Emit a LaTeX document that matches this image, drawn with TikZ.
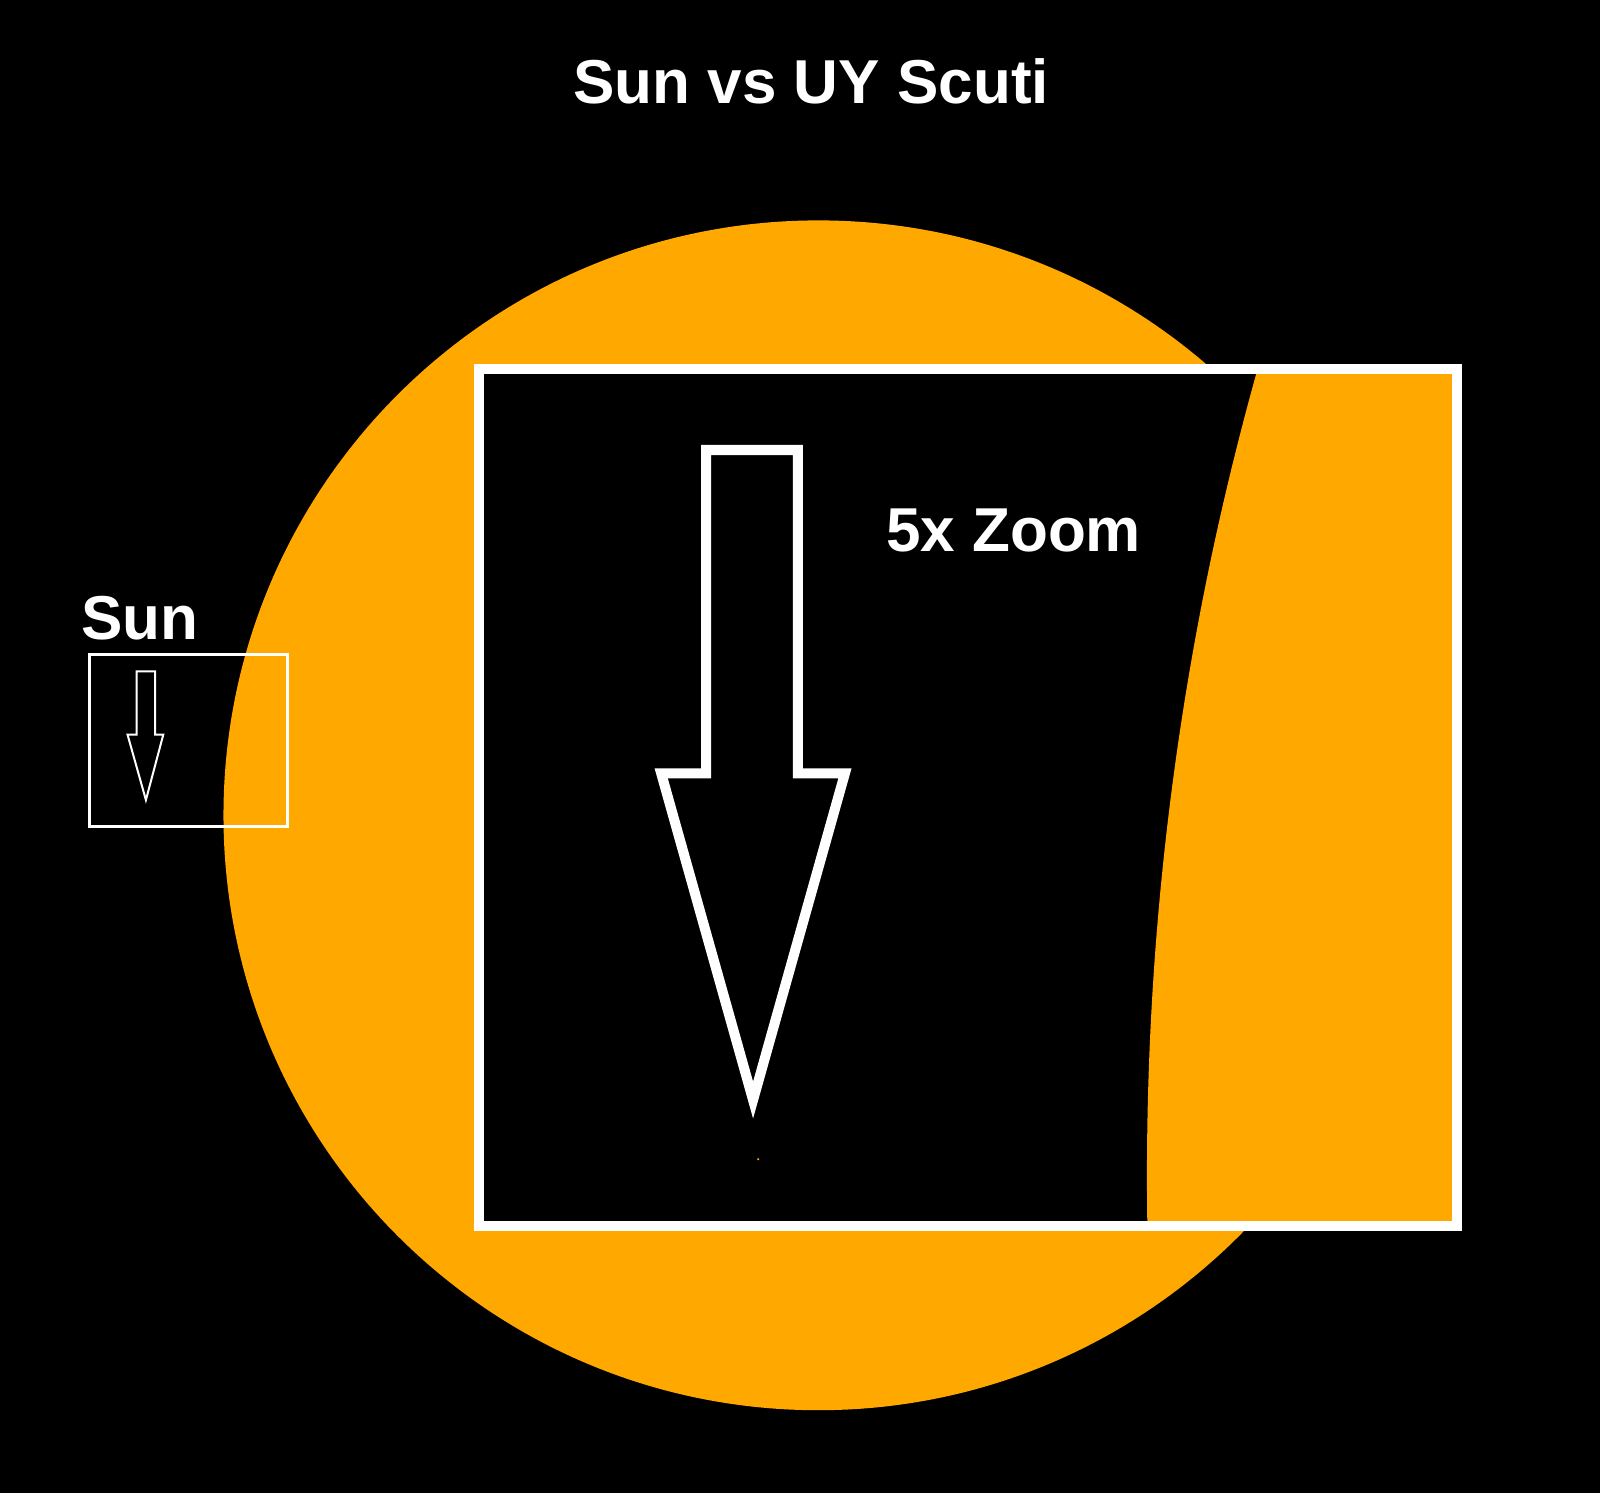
\documentclass[tikz,border=0pt]{standalone}
\usepackage{fontspec}
\setmainfont{Liberation Sans}
\definecolor{sunor}{RGB}{255,168,0}
\begin{document}
\begin{tikzpicture}[x=0.5102pt,y=-0.5102pt,
  lbl/.style={text=white,font=\bfseries\fontsize{31}{36}\selectfont,inner sep=0},
  wl/.style={draw=white,line join=miter}]
\fill[black] (0,0) rectangle (1568,1463);
\useasboundingbox (0,0) rectangle (1568,1463);
\fill[sunor] (802,799) circle (583);
% small box
\draw[wl,line width=1.5pt] (88,641) rectangle (282,810);
\draw[wl,line width=1pt] (134,658) -- (152,658) -- (152,720) -- (160,720) -- (143,784) -- (125,720) -- (134,720) -- cycle;
% zoom box
\begin{scope}
\clip (469,362) rectangle (1428,1201);
\fill[black] (469,362) rectangle (1428,1201);
\fill[sunor] (4039,1152) circle (2915);
\end{scope}
\draw[wl,line width=5pt] (469,362) rectangle (1428,1201);
\draw[wl,line width=5pt] (692,441) -- (782,441) -- (782,758) -- (828,758) -- (738,1078) -- (648,758) -- (692,758) -- cycle;
\fill[sunor] (743,1136) circle (1.2);
\node[lbl] (title) at (795,80) {Sun vs UY Scuti};
\node[lbl,anchor=west] (zoom) at (868,520) {5x Zoom};
\node[lbl,anchor=west] (sun) at (79,606) {Sun};
\end{tikzpicture}
\end{document}
